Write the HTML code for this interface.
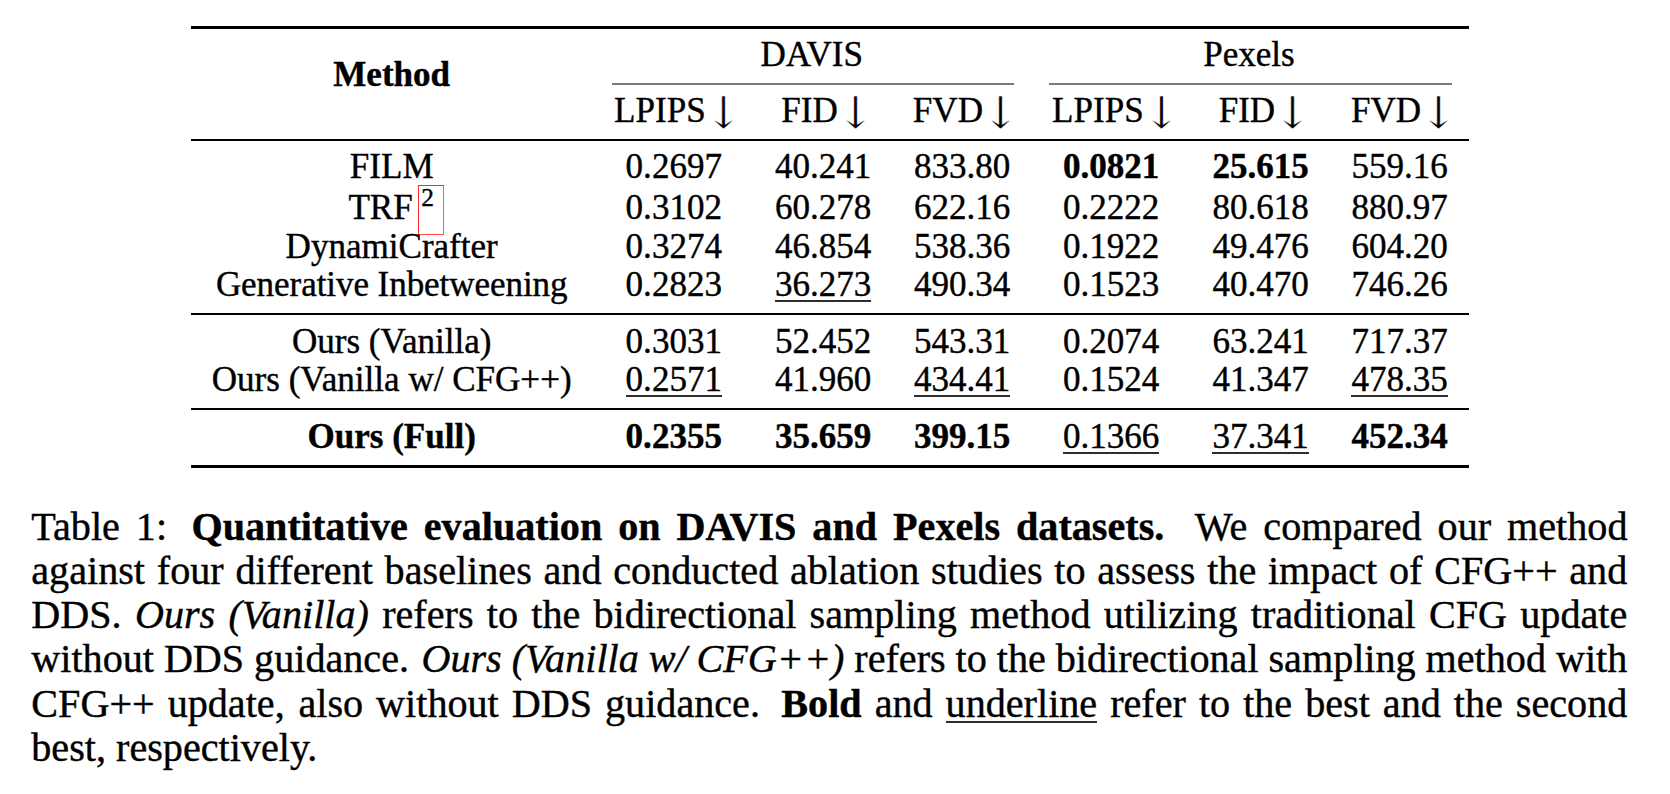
<!DOCTYPE html>
<html lang="en">
<head>
<meta charset="utf-8">
<title>Table 1: Quantitative evaluation on DAVIS and Pexels datasets</title>
<style>
html,body{margin:0;padding:0;background:#fff;}
body{width:1670px;height:794px;position:relative;overflow:hidden;color:#000;
 font-family:"Liberation Serif","Times New Roman",serif;-webkit-text-stroke:0.4px #000;}
.tbl{position:absolute;left:0;top:0;width:1670px;height:480px;font-size:35.05px;line-height:38.4px;}
.rule{position:absolute;left:191px;width:1278px;background:#000;}
.cmid{position:absolute;background:#000;height:1.5px;opacity:.52;}
.r{position:absolute;left:0;width:1670px;height:38.4px;}
.c{position:absolute;top:0;text-align:center;white-space:nowrap;}
.c0{left:181.70px;width:420px;}
.c1{left:593.80px;width:160px;}
.c2{left:743.20px;width:160px;}
.c3{left:882.20px;width:160px;}
.c4{left:1031.20px;width:160px;}
.c5{left:1180.60px;width:160px;}
.c6{left:1319.70px;width:160px;}
b{font-weight:bold;}
u{text-decoration:none;position:relative;display:inline-block;}
u::after{content:"";position:absolute;left:0;right:0;top:34px;height:2px;background:#2e2e2e;}
.ar{font-family:"DejaVu Math TeX Gyre","DejaVu Serif",serif;font-size:39.3px;line-height:0;display:inline-block;
 transform:scaleX(1.1);transform-origin:50% 50%;position:relative;top:1.1px;margin-left:-2.5px;margin-right:-2.4px;-webkit-text-stroke:0.45px #fff;}
.trf{left:348.4px;text-align:left;}
.fn{position:absolute;left:69.6px;top:-3.67px;width:24px;height:48px;border:1px solid #ff2a2a;border-right-color:#ff5a5a;border-bottom-color:#ff4a4a;}
.fn sup{position:absolute;left:2.3px;top:-1.3px;font-size:25.4px;line-height:25.4px;vertical-align:baseline;}
.cap{position:absolute;left:31.3px;width:1596px;font-size:40.15px;line-height:44.16px;height:44.16px;
 text-align:left;white-space:nowrap;}
.cap u::after{top:39px;}
</style>
</head>
<body>
<div class="tbl">
<div class="rule" style="top:26px;height:3px"></div>
<div class="cmid" style="left:612px;width:402px;top:83.1px"></div>
<div class="cmid" style="left:1049px;width:402.6px;top:83.1px"></div>
<div class="rule" style="top:139.4px;height:2px"></div>
<div class="rule" style="top:313px;height:2px"></div>
<div class="rule" style="top:408px;height:2px"></div>
<div class="rule" style="top:464.5px;height:3px"></div>
<div class="r" style="top:55.97px"><span class="c c0"><b>Method</b></span></div>
<div class="r" style="top:35.97px"><span class="c" style="left:661.70px;width:300px">DAVIS</span><span class="c" style="left:1099.00px;width:300px">Pexels</span></div>
<div class="r" style="top:91.97px"><span class="c" style="left:593.00px;width:160px">LPIPS <span class="ar">↓</span></span><span class="c" style="left:742.60px;width:160px">FID <span class="ar">↓</span></span><span class="c" style="left:881.00px;width:160px">FVD <span class="ar">↓</span></span><span class="c" style="left:1031.00px;width:160px">LPIPS <span class="ar">↓</span></span><span class="c" style="left:1180.00px;width:160px">FID <span class="ar">↓</span></span><span class="c" style="left:1319.10px;width:160px">FVD <span class="ar">↓</span></span></div>
<div class="r" style="top:147.97px"><span class="c c0">FILM</span><span class="c c1">0.2697</span><span class="c c2">40.241</span><span class="c c3">833.80</span><span class="c c4"><b>0.0821</b></span><span class="c c5"><b>25.615</b></span><span class="c c6">559.16</span></div>
<div class="r" style="top:188.67px"><span class="c trf">TRF<a class="fn"><sup>2</sup></a></span><span class="c c1">0.3102</span><span class="c c2">60.278</span><span class="c c3">622.16</span><span class="c c4">0.2222</span><span class="c c5">80.618</span><span class="c c6">880.97</span></div>
<div class="r" style="top:227.57px"><span class="c c0">DynamiCrafter</span><span class="c c1">0.3274</span><span class="c c2">46.854</span><span class="c c3">538.36</span><span class="c c4">0.1922</span><span class="c c5">49.476</span><span class="c c6">604.20</span></div>
<div class="r" style="top:265.97px"><span class="c c0"><span style="letter-spacing:-0.07px">Generative Inbetweening</span></span><span class="c c1">0.2823</span><span class="c c2"><u>36.273</u></span><span class="c c3">490.34</span><span class="c c4">0.1523</span><span class="c c5">40.470</span><span class="c c6">746.26</span></div>
<div class="r" style="top:322.57px"><span class="c c0">Ours (Vanilla)</span><span class="c c1">0.3031</span><span class="c c2">52.452</span><span class="c c3">543.31</span><span class="c c4">0.2074</span><span class="c c5">63.241</span><span class="c c6">717.37</span></div>
<div class="r" style="top:360.97px"><span class="c c0">Ours (Vanilla w/ CFG++)</span><span class="c c1"><u>0.2571</u></span><span class="c c2">41.960</span><span class="c c3"><u>434.41</u></span><span class="c c4">0.1524</span><span class="c c5">41.347</span><span class="c c6"><u>478.35</u></span></div>
<div class="r" style="top:417.97px"><span class="c c0"><b>Ours (Full)</b></span><span class="c c1"><b>0.2355</b></span><span class="c c2"><b>35.659</b></span><span class="c c3"><b>399.15</b></span><span class="c c4"><u>0.1366</u></span><span class="c c5"><u>37.341</u></span><span class="c c6"><b>452.34</b></span></div>
</div>
<div class="cap" style="top:504.97px;word-spacing:5.96px">Table 1:<span style="word-spacing:14.36px"> </span><b>Quantitative evaluation on DAVIS and Pexels datasets.</b><span style="word-spacing:20.44px"> </span>We compared our method</div>
<div class="cap" style="top:549.12px;word-spacing:1.73px">against four different baselines and conducted ablation studies to assess the impact of CFG++ and</div>
<div class="cap" style="top:593.27px;word-spacing:3.21px">DDS. <i>Ours (Vanilla)</i> refers to the bidirectional sampling method utilizing traditional CFG update</div>
<div class="cap" style="top:637.47px;word-spacing:-0.11px">without DDS guidance.<span style="word-spacing:2.37px"> </span><i>Ours (Vanilla w/ CFG++)</i> refers to the bidirectional sampling method with</div>
<div class="cap" style="top:681.62px;word-spacing:2.96px">CFG++ update,<span style="word-spacing:3.70px"> </span>also without DDS guidance.<span style="word-spacing:11.30px"> </span><b>Bold</b> and <u>underline</u> refer to the best and the second</div>
<div class="cap" style="top:725.77px;word-spacing:0.00px">best, respectively.</div>
</body>
</html>
